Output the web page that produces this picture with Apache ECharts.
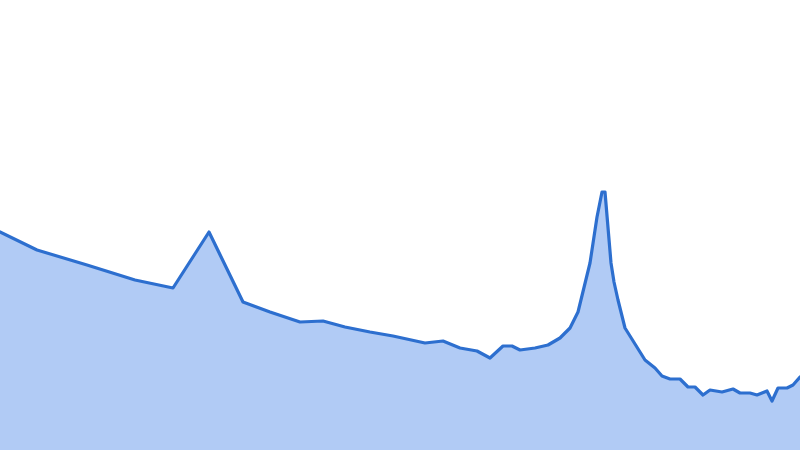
<!DOCTYPE html>
<html>
<head>
<meta charset="utf-8">
<script src="https://cdn.jsdelivr.net/npm/echarts@6/dist/echarts.min.js"></script>
<style>html,body{margin:0;padding:0;background:#fff}#c{width:800px;height:450px}</style>
</head>
<body>
<div id="c"></div>
<script>
const xs = [0,37,87,135,173,209,243,270,300,323,345,370,393,425,443,460,477,490,503,512,520,535,548,560,570,578,590,597,602,605,611,614,618,625,635,645,655,662,670,680,688,695,703,710,722,733,740,750,757,767,772,778,787,793,800];
const ys = [232,250,265,280,288,232,302,312,322,321,327,332,336,343,341,348,351,358,346,346,350,348,345,338,328,312,263,217,192,192,263,282,300,328,344,360,368,376,379,379,387,387,395,390,392,389,393,393,395,391,401,388,388,385,377];
const H = 450;
const data = xs.map((x, i) => [x, H - ys[i]]);
const chart = echarts.init(document.getElementById('c'));
chart.setOption({
  animation: false,
  grid: {left: 0, right: 0, top: 0, bottom: 0},
  xAxis: {type: 'value', min: 0, max: 800, show: false},
  yAxis: {type: 'value', min: 0, max: 450, show: false},
  series: [{
    type: 'line',
    data: data,
    showSymbol: false,
    lineStyle: {color: '#2d6fcf', width: 3.2, join: 'round', cap: 'round'},
    itemStyle: {color: '#2d6fcf'},
    areaStyle: {color: '#b1cbf5', opacity: 1}
  }]
});
</script>
</body>
</html>
